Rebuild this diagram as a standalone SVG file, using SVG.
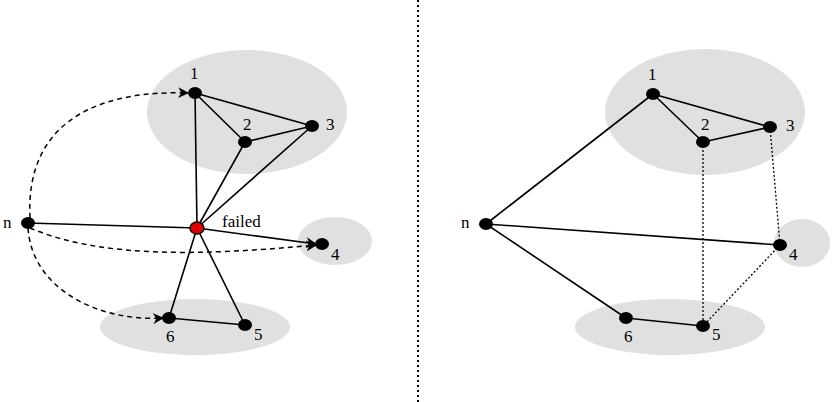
<svg xmlns="http://www.w3.org/2000/svg" width="835" height="402" viewBox="0 0 835 402">
<style>
.g{fill:#e0e0e0}
.e{stroke:#000;stroke-width:1.6;fill:none}
.d{stroke:#000;stroke-width:1.5;fill:none;stroke-dasharray:5,4}
.o{stroke:#000;stroke-width:1.3;fill:none;stroke-dasharray:2,2}
.n{fill:#000}
text{font-family:"Liberation Serif",serif;font-size:17px;fill:#000}
</style>
<defs>
<marker id="a" viewBox="0 0 10 10" refX="9" refY="5" markerWidth="11" markerHeight="11" markerUnits="userSpaceOnUse" orient="auto"><path d="M0,0L10,5L0,10L3,5Z" fill="#000"/></marker>
</defs>
<ellipse class="g" cx="247" cy="112" rx="100" ry="62"/>
<ellipse class="g" cx="335" cy="241" rx="37" ry="24"/>
<ellipse class="g" cx="195" cy="327" rx="95" ry="28"/>
<ellipse class="g" cx="705" cy="112" rx="100" ry="63"/>
<ellipse class="g" cx="802" cy="243" rx="28" ry="24"/>
<ellipse class="g" cx="670" cy="327" rx="95" ry="28"/>
<line x1="418" y1="0" x2="418" y2="402" stroke="#000" stroke-width="2" stroke-dasharray="2,3"/>
<g id="connectors">
<path class="e" d="M195,93L197,228M195,93L245,142M195,93L312,126M245,142L312,126M245,142L197,228M312,126L197,228M28,223L197,228M197,228L169,318M197,228L245,325M169,318L245,325"/>
<path class="e" d="M197,228L316,244" marker-end="url(#a)"/>
<path class="d" d="M30,218C25,120 100,90 188,93" marker-end="url(#a)"/>
<path class="d" d="M30,228C100,258 200,256 316,245" marker-end="url(#a)"/>
<path class="d" d="M28,228C32,290 100,322 163,318" marker-end="url(#a)"/>
<path class="e" d="M486,224L653,94M653,94L703,142M653,94L770,127M703,142L770,127M486,224L780,245M486,224L626,318M626,318L703,326"/>
<path class="o" d="M703,142L703,326M770,127L780,245M780,245L703,326"/>
</g>
<g id="left-nodes">
<g id="L1"><ellipse class="n" cx="195" cy="93" rx="7" ry="6"/><text x="190" y="79">1</text></g>
<g id="L2"><ellipse class="n" cx="245" cy="142" rx="7" ry="6"/><text x="243" y="130">2</text></g>
<g id="L3"><ellipse class="n" cx="312" cy="126" rx="7" ry="6"/><text x="326" y="130">3</text></g>
<g id="Ln"><ellipse class="n" cx="28" cy="223" rx="7" ry="6"/><text x="3" y="228">n</text></g>
<g id="Lf"><ellipse cx="197" cy="228" rx="7" ry="6" fill="#e00000" stroke="#000" stroke-width="1.5"/><text x="222" y="227">failed</text></g>
<g id="L4"><ellipse class="n" cx="322" cy="244" rx="7" ry="6"/><text x="331" y="260">4</text></g>
<g id="L5"><ellipse class="n" cx="245" cy="325" rx="7" ry="6"/><text x="254" y="340">5</text></g>
<g id="L6"><ellipse class="n" cx="169" cy="318" rx="7" ry="6"/><text x="166" y="342">6</text></g>
</g>
<g id="right-nodes">
<g id="R1"><ellipse class="n" cx="653" cy="94" rx="7" ry="6"/><text x="648" y="80">1</text></g>
<g id="R2"><ellipse class="n" cx="703" cy="142" rx="7" ry="6"/><text x="701" y="130">2</text></g>
<g id="R3"><ellipse class="n" cx="770" cy="127" rx="7" ry="6"/><text x="786" y="131">3</text></g>
<g id="Rn"><ellipse class="n" cx="486" cy="224" rx="7" ry="6"/><text x="461" y="228">n</text></g>
<g id="R4"><ellipse class="n" cx="780" cy="245" rx="7" ry="6"/><text x="789" y="260">4</text></g>
<g id="R5"><ellipse class="n" cx="703" cy="326" rx="7" ry="6"/><text x="712" y="340">5</text></g>
<g id="R6"><ellipse class="n" cx="626" cy="318" rx="7" ry="6"/><text x="624" y="342">6</text></g>
</g>
</svg>
